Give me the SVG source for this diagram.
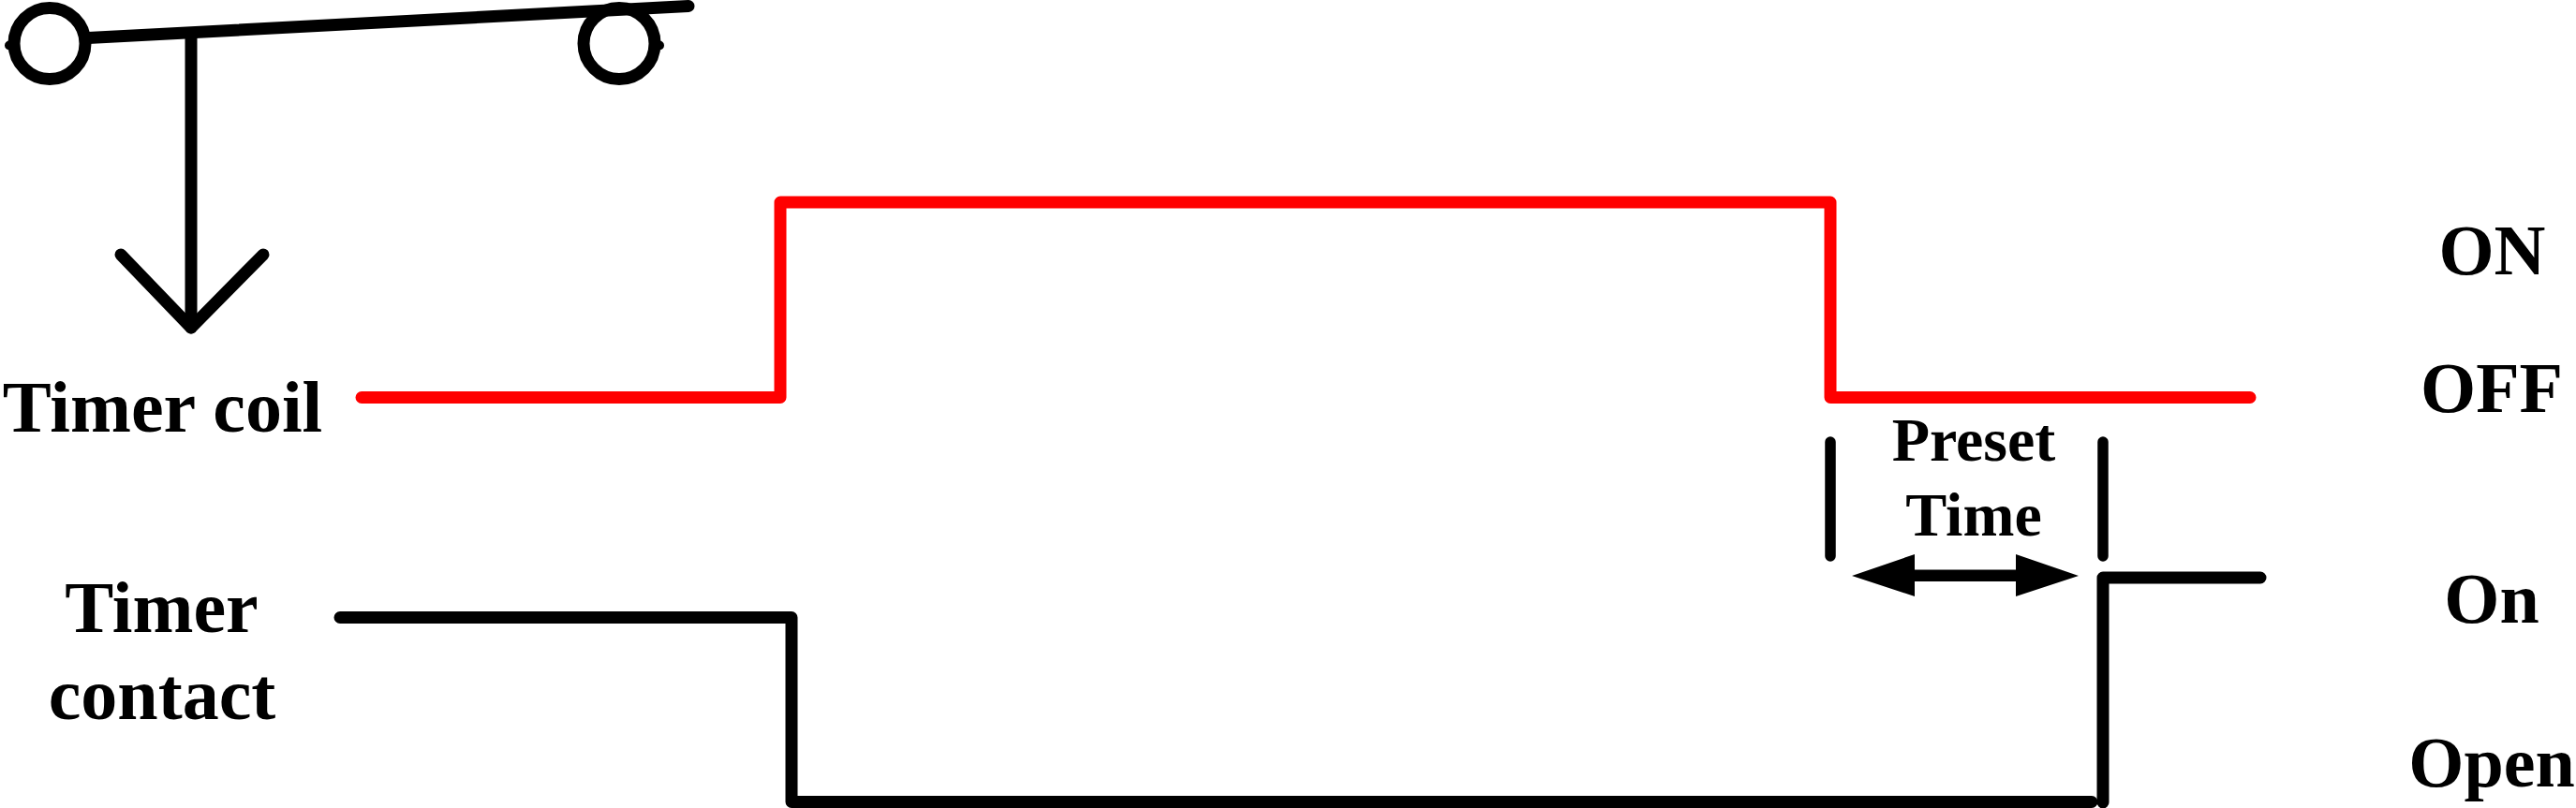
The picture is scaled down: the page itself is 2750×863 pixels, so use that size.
<svg xmlns="http://www.w3.org/2000/svg" width="2750" height="863" viewBox="0 0 2750 863">
<style>
.k{fill:none;stroke:#000;stroke-width:13;stroke-linecap:round;stroke-linejoin:round}
.r{fill:none;stroke:#f00;stroke-width:13;stroke-linecap:round;stroke-linejoin:round}
.t{font-family:"Liberation Serif","Times New Roman",serif;font-weight:bold;font-size:78px;fill:#000;text-anchor:middle}
.s{font-size:66px}
.u{font-size:76px}
.a{fill:#000;stroke:none}
</style>
<rect width="2750" height="863" fill="#fff"/>
<g id="switch">
<circle class="k" cx="53" cy="46.500" r="38"/>
<circle class="k" cx="661" cy="46.500" r="38"/>
<path class="k" d="M10 48.500H12M704 48.500H702" style="stroke-width:10"/>
<path class="k" d="M94 40.500L735 6.500"/>
<path class="k" d="M204 40V350"/>
<path class="k" d="M129 272L204 350L281 272"/>
</g>
<g id="connectors">
<path id="coil-signal" class="r" d="M386 424.500H833V216H1954V424.500H2402"/>
<path id="contact-signal-a" class="k" d="M363 659.500H845V856.500H2233"/>
<path id="contact-signal-b" class="k" d="M2245 857V617H2413"/>
<path id="preset-tick-left" class="k" d="M1954 472V594" style="stroke-width:11.500"/>
<path id="preset-tick-right" class="k" d="M2245 472V594" style="stroke-width:11.500"/>
<path id="preset-arrow" class="a" d="M1977 615L2044 592V608.500H2152V592L2219 615L2152 637V621H2044V637Z"/>
</g>
<g id="label-timer-coil"><text class="t" x="173.500" y="460.500">Timer coil</text></g>
<g id="label-timer-contact"><text class="t" x="172.500" y="675">Timer</text><text class="t" x="173" y="768">contact</text></g>
<g id="label-preset-time"><text class="t s" x="2107" y="492">Preset</text><text class="t s" x="2107" y="572">Time</text></g>
<g id="label-on-upper"><text class="t u" x="2660.500" y="292.500">ON</text></g>
<g id="label-off"><text class="t u" x="2660" y="440">OFF</text></g>
<g id="label-on-lower"><text class="t u" x="2660" y="665">On</text></g>
<g id="label-open"><text class="t u" x="2660" y="840">Open</text></g>
</svg>
